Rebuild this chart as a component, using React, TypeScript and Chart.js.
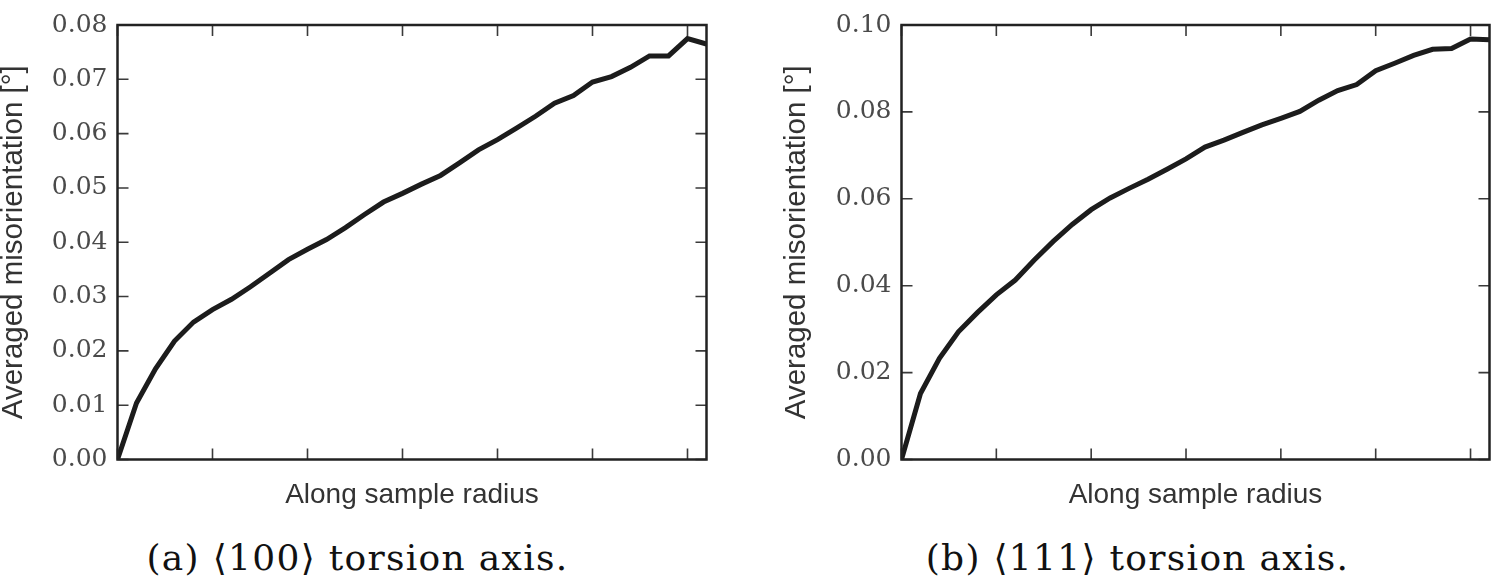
import { useEffect, useRef } from "react";
import { Chart, registerables } from "chart.js";
Chart.register(...registerables);

// positions along the sample radius (the axis has unlabelled ticks at 1..6)
const radius = [
  0, 0.2, 0.4, 0.6, 0.8, 1.0, 1.2, 1.4, 1.6, 1.8, 2.0, 2.2, 2.4, 2.6, 2.8, 3.0,
  3.2, 3.4, 3.6, 3.8, 4.0, 4.2, 4.4, 4.6, 4.8, 5.0, 5.2, 5.4, 5.6, 5.8, 6.0, 6.2,
];

// averaged misorientation, <100> torsion axis
const misorientation100 = [
  0, 0.0104, 0.0167, 0.0218, 0.0253, 0.0276, 0.0295, 0.0318, 0.0343, 0.0368,
  0.0387, 0.0405, 0.0427, 0.0451, 0.0474, 0.049, 0.0507, 0.0523, 0.0546, 0.057,
  0.0589, 0.061, 0.0632, 0.0656, 0.067, 0.0695, 0.0705, 0.0722, 0.0743, 0.0743,
  0.0775, 0.0765,
];

// averaged misorientation, <111> torsion axis
const misorientation111 = [
  0, 0.0152, 0.0233, 0.0294, 0.0338, 0.0379, 0.0413, 0.0459, 0.0502, 0.0541,
  0.0575, 0.0602, 0.0624, 0.0645, 0.0668, 0.0692, 0.0719, 0.0735, 0.0753, 0.077,
  0.0785, 0.0801, 0.0827, 0.0849, 0.0863, 0.0895, 0.0912, 0.093, 0.0944, 0.0946,
  0.0968, 0.0966,
];

// y axis: [max, step] for each panel
const yAxis100 = [0.08, 0.01];
const yAxis111 = [0.1, 0.02];

const captions = ["(a) \u27e8100\u27e9 torsion axis.", "(b) \u27e8111\u27e9 torsion axis."];
const yTitle = "Averaged misorientation [\u00b0]";
const xTitle = "Along sample radius";

// frame + inward ticks on all four sides, like the matplotlib original
const frameTicks = {
  id: "frameTicks",
  afterDraw(chart: any) {
    const { ctx, chartArea: a, scales } = chart;
    const len = 11;
    ctx.save();
    ctx.strokeStyle = "#3a3a3a";
    ctx.lineWidth = 1.6;
    ctx.beginPath();
    scales.x.ticks.forEach((t: any) => {
      const px = scales.x.getPixelForValue(t.value);
      ctx.moveTo(px, a.bottom);
      ctx.lineTo(px, a.bottom - len);
      ctx.moveTo(px, a.top);
      ctx.lineTo(px, a.top + len);
    });
    scales.y.ticks.forEach((t: any) => {
      const py = scales.y.getPixelForValue(t.value);
      ctx.moveTo(a.left, py);
      ctx.lineTo(a.left + len, py);
      ctx.moveTo(a.right, py);
      ctx.lineTo(a.right - len, py);
    });
    ctx.stroke();
    ctx.strokeStyle = "#222";
    ctx.lineWidth = 2.5;
    ctx.strokeRect(a.left, a.top, a.right - a.left, a.bottom - a.top);
    ctx.restore();
  },
};

interface PanelProps {
  left: number;
  values: number[];
  yAxis: number[];
  plotLeft: number;
  plotRight: number;
  yTitlePad: number;
  caption: string;
}

const W = 715;
const H = 520;

const Panel = ({ left, values, yAxis, plotLeft, plotRight, yTitlePad, caption }: PanelProps) => {
  const chartRef = useRef<HTMLCanvasElement>(null);
  const chartInstanceRef = useRef<Chart | null>(null);

  useEffect(() => {
    if (chartInstanceRef.current) chartInstanceRef.current.destroy();
    const ctx = chartRef.current?.getContext("2d");
    if (!ctx) return;

    chartInstanceRef.current = new Chart(ctx, {
      type: "line",
      data: {
        datasets: [
          {
            data: radius.map((r, i) => ({ x: r, y: values[i] })),
            borderColor: "#1c1c1c",
            borderWidth: 5,
            pointRadius: 0,
            tension: 0,
            fill: false,
          },
        ],
      },
      options: {
        responsive: false,
        animation: false,
        layout: { padding: { left: 0, top: 17.5, right: W - plotRight, bottom: 0 } },
        plugins: { legend: { display: false }, tooltip: { enabled: false } },
        scales: {
          x: {
            type: "linear",
            min: 0,
            max: 6.2,
            grid: { display: false, drawTicks: false },
            border: { display: false },
            ticks: { stepSize: 1, includeBounds: false, display: false },
            title: {
              display: true,
              text: xTitle,
              color: "#333",
              font: { family: "Liberation Sans", size: 28, lineHeight: 1 },
              padding: { top: 0, bottom: 10.7 },
            },
            afterFit: (s: any) => {
              s.height = H - 459.5;
            },
          },
          y: {
            min: 0,
            max: yAxis[0],
            grid: { display: false, drawTicks: false },
            border: { display: false },
            ticks: {
              stepSize: yAxis[1],
              padding: 10,
              color: "#4a4a4a",
              font: { family: "DejaVu Serif", size: 25 },
              callback: (v: any) => Number(v).toFixed(2),
            },
            title: {
              display: true,
              text: yTitle,
              color: "#333",
              font: { family: "Liberation Sans", size: 29.5, lineHeight: 1 },
              padding: { top: yTitlePad, bottom: 0 },
            },
            afterFit: (s: any) => {
              s.width = plotLeft;
            },
          },
        },
      },
      plugins: [frameTicks],
    } as any);

    return () => {
      if (chartInstanceRef.current) {
        chartInstanceRef.current.destroy();
        chartInstanceRef.current = null;
      }
    };
  }, [values, yAxis, plotLeft, plotRight, yTitlePad]);

  return (
    <>
      <canvas
        ref={chartRef}
        width={W}
        height={H}
        style={{ position: "absolute", left, top: 0, width: W, height: H }}
      ></canvas>
      <div
        style={{
          position: "absolute",
          left,
          top: 539.5,
          width: W,
          textAlign: "center",
          fontFamily: "'DejaVu Serif', serif",
          fontSize: 36,
          lineHeight: "36px",
          letterSpacing: 1.3,
          color: "#111",
          whiteSpace: "nowrap",
        }}
      >
        {caption}
      </div>
    </>
  );
};

const App = () => {
  return (
    <div
      style={{
        position: "absolute",
        left: 0,
        top: 0,
        width: 1495,
        height: 578,
        background: "#fff",
        overflow: "hidden",
      }}
    >
      <Panel
        left={0}
        values={misorientation100}
        yAxis={yAxis100}
        plotLeft={117.5}
        plotRight={706.5}
        yTitlePad={-0.7}
        caption={captions[0]}
      />
      <Panel
        left={780}
        values={misorientation111}
        yAxis={yAxis111}
        plotLeft={121.5}
        plotRight={709.5}
        yTitlePad={2.3}
        caption={captions[1]}
      />
    </div>
  );
};

export default App;
